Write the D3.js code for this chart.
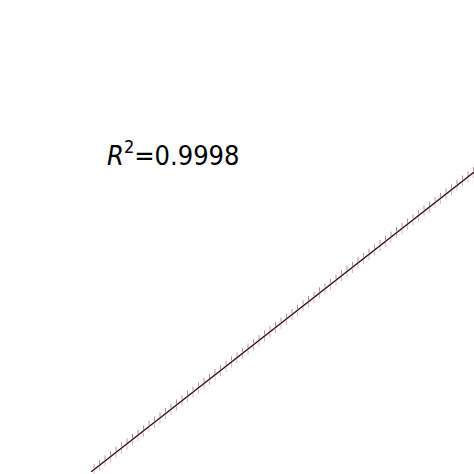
<!DOCTYPE html>
<html>
<head>
<meta charset="utf-8">
<script src="https://cdn.jsdelivr.net/npm/d3@7"></script>
<style>
  html, body { margin: 0; padding: 0; background: #fff; }
  svg { display: block; }
</style>
</head>
<body>
<div id="chart"></div>
<script>
// measured points (x = sample index, y = measured value)
var xValues = [1, 2, 3, 4, 5, 6, 7, 8, 9, 10, 11, 12, 13, 14, 15, 16, 17, 18, 19, 20,
  21, 22, 23, 24, 25, 26, 27, 28, 29, 30, 31, 32, 33, 34, 35, 36, 37, 38, 39, 40,
  41, 42, 43, 44, 45, 46, 47, 48, 49, 50, 51, 52, 53, 54, 55, 56, 57, 58, 59, 60,
  61, 62, 63, 64, 65, 66, 67, 68, 69, 70];
var yValues = [1.03, 1.98, 3.04, 3.97, 5.02, 6.05, 6.96, 8.03, 9.01, 9.95,
  11.04, 12.02, 12.97, 14.05, 14.98, 16.03, 16.96, 18.04, 19.02, 19.97,
  21.05, 21.98, 23.03, 23.96, 25.04, 26.01, 26.97, 28.05, 28.99, 30.03,
  30.96, 32.04, 33.02, 33.97, 35.05, 35.98, 37.03, 37.97, 39.04, 40.01,
  40.96, 42.05, 42.98, 44.03, 44.97, 46.04, 47.02, 47.96, 49.05, 49.99,
  51.03, 51.97, 53.04, 54.01, 54.96, 56.05, 56.98, 58.03, 58.97, 60.04,
  61.02, 61.96, 63.05, 63.99, 65.03, 65.97, 67.04, 68.01, 68.96, 70.05];
var errorSize = 1.3;
var r2Label = "0.9998";

var svgWidth = 474;
var svgHeight = 474;

var svg = d3.select("#chart")
  .append("svg")
  .attr("width", svgWidth)
  .attr("height", svgHeight);

var data = xValues.map(function(x, i) { return {x: x, y: yValues[i]}; });

var xScale = d3.scaleLinear()
  .domain([0, 70])
  .range([88.5, 473.5]);

var yScale = d3.scaleLinear()
  .domain([0, 70])
  .range([474, 172.5]);

// least squares fit
var mx = d3.mean(data, d => d.x);
var my = d3.mean(data, d => d.y);
var slope = d3.sum(data, d => (d.x - mx) * (d.y - my)) / d3.sum(data, d => (d.x - mx) * (d.x - mx));
var intercept = my - slope * mx;

// error bars: upper half darker, lower half pink
var bars = svg.append("g");
bars.selectAll("line.up")
  .data(data)
  .enter()
  .append("line")
  .attr("class", "up")
  .attr("x1", d => xScale(d.x))
  .attr("x2", d => xScale(d.x))
  .attr("y1", d => yScale(d.y + errorSize))
  .attr("y2", d => yScale(d.y + 0.3))
  .attr("stroke", "#a8606e")
  .attr("stroke-width", 1)
  .attr("opacity", 0.7);

bars.selectAll("line.down")
  .data(data)
  .enter()
  .append("line")
  .attr("class", "down")
  .attr("x1", d => xScale(d.x))
  .attr("x2", d => xScale(d.x))
  .attr("y1", d => yScale(d.y - 0.3))
  .attr("y2", d => yScale(d.y - errorSize))
  .attr("stroke", "#e08a9c")
  .attr("stroke-width", 1)
  .attr("opacity", 0.65);

// fitted line
var xFit = [0.5, 71];
svg.append("line")
  .attr("x1", xScale(xFit[0]))
  .attr("y1", yScale(intercept + slope * xFit[0]))
  .attr("x2", xScale(xFit[1]))
  .attr("y2", yScale(intercept + slope * xFit[1]))
  .attr("stroke", "#2a1518")
  .attr("stroke-width", 1.4);

// R^2 label
var label = svg.append("text")
  .attr("x", 107)
  .attr("y", 165)
  .attr("font-family", "DejaVu Sans Condensed, DejaVu Sans, sans-serif")
  .attr("font-stretch", "condensed")
  .attr("font-size", "27px")
  .attr("fill", "#000");
label.append("tspan").attr("font-style", "italic").text("R");
label.append("tspan").attr("font-size", "18px").attr("dy", -12).text("2");
label.append("tspan").attr("dy", 12).text("=" + r2Label);
</script>
</body>
</html>
